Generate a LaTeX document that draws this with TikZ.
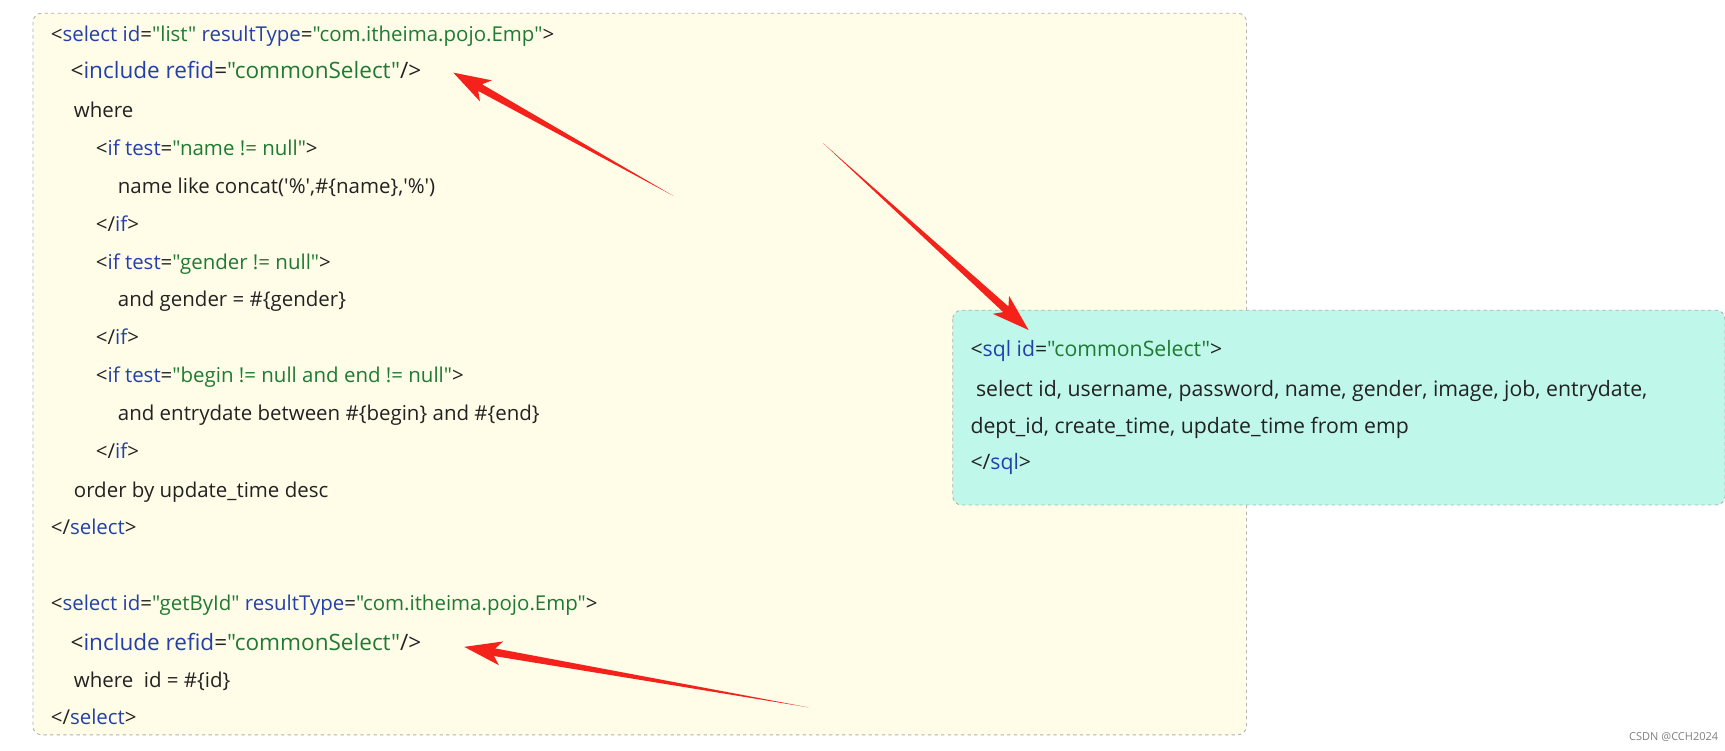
\documentclass[tikz,border=0pt]{standalone}
\usepackage{fontspec}
\setmainfont{Open Sans}[Ligatures=TeXOff]
\usetikzlibrary{calc}
\definecolor{tagb}{HTML}{2340A8}
\definecolor{valg}{HTML}{1F7A33}
\definecolor{txt}{HTML}{222222}
\definecolor{yel}{HTML}{FFFDE8}
\definecolor{cyn}{HTML}{BFF7EA}
\definecolor{arr}{HTML}{F5221B}
\newcommand\tb[1]{\textcolor{tagb}{#1}}
\newcommand\vg[1]{\textcolor{valg}{#1}}
\newcommand\redarrow[2]{%
  \fill[arr] (#1) -- ($($(#2)!28pt!(#1)$)!3.5pt!90:(#2)$) -- ($($(#2)!34pt!(#1)$)!11pt!90:(#2)$) -- (#2)
   -- ($($(#2)!34pt!(#1)$)!11pt!-90:(#2)$) -- ($($(#2)!28pt!(#1)$)!3.5pt!-90:(#2)$) -- cycle;}
\begin{document}
\begin{tikzpicture}[x=1pt,y=-1pt,
  code/.style={anchor=base west,inner sep=0pt,font=\fontsize{18.6}{20}\selectfont,text=txt},
  inc/.style={code,font=\fontsize{20.5}{22}\selectfont},
  sqlt/.style={code,font=\fontsize{19.3}{20}\selectfont},
  box/.style={draw=gray!60,dashed,rounded corners=8pt,line width=0.8pt}]
\useasboundingbox (0,0) rectangle (1568,682);
\fill[white] (0,0) rectangle (1568,682);
\path[box,fill=yel] (30,12) rectangle (1133,668);
\path[box,fill=cyn] (866,282) rectangle (1568,459);
\node[code] (l1) at (46,38) {<\tb{select id}=\vg{"list"} \tb{resultType}=\vg{"com.itheima.pojo.Emp"}>};
\node[inc] (l2) at (64,71) {<\tb{include refid}=\vg{"commonSelect"}/>};
\node[code] (l3) at (67,107) {where};
\node[code] (l4) at (87,141) {<\tb{if test}=\vg{"name != null"}>};
\node[code] (l5) at (107,176) {name like concat('\%',\#\{name\},'\%')};
\node[code] (l6) at (87,210) {</\tb{if}>};
\node[code] (l7) at (87,245) {<\tb{if test}=\vg{"gender != null"}>};
\node[code] (l8) at (107,279) {and gender = \#\{gender\}};
\node[code] (l9) at (87,313) {</\tb{if}>};
\node[code] (l10) at (87,348) {<\tb{if test}=\vg{"begin != null and end != null"}>};
\node[code] (l11) at (107,382) {and entrydate between \#\{begin\} and \#\{end\}};
\node[code] (l12) at (87,417) {</\tb{if}>};
\node[code] (l13) at (67,452) {order by update\_time desc};
\node[code] (l14) at (46,486) {</\tb{select}>};
\node[code] (m1) at (46,555) {<\tb{select id}=\vg{"getById"} \tb{resultType}=\vg{"com.itheima.pojo.Emp"}>};
\node[inc] (m2) at (64,591) {<\tb{include refid}=\vg{"commonSelect"}/>};
\node[code] (m3) at (67,625) {where\ \ id = \#\{id\}};
\node[code] (m4) at (46,659) {</\tb{select}>};
\node[sqlt] (s1) at (882,324) {<\tb{sql id}=\vg{"commonSelect"}>};
\node[sqlt] (s2) at (882,360) {\ select id, username, password, name, gender, image, job, entrydate,};
\node[sqlt] (s3) at (882,394) {dept\_id, create\_time, update\_time from emp};
\node[sqlt] (s4) at (882,427) {</\tb{sql}>};
\node[anchor=base east,inner sep=0pt,font=\fontsize{10}{11}\selectfont,text=gray] (wm) at (1562,673) {CSDN @CCH2024};
\coordinate (t1) at (612,178); \coordinate (h1) at (412,66);
\coordinate (t2) at (748,130); \coordinate (h2) at (935,300);
\coordinate (t3) at (735,643); \coordinate (h3) at (422,588);
\redarrow{t1}{h1}
\redarrow{t2}{h2}
\redarrow{t3}{h3}
\end{tikzpicture}
\end{document}
